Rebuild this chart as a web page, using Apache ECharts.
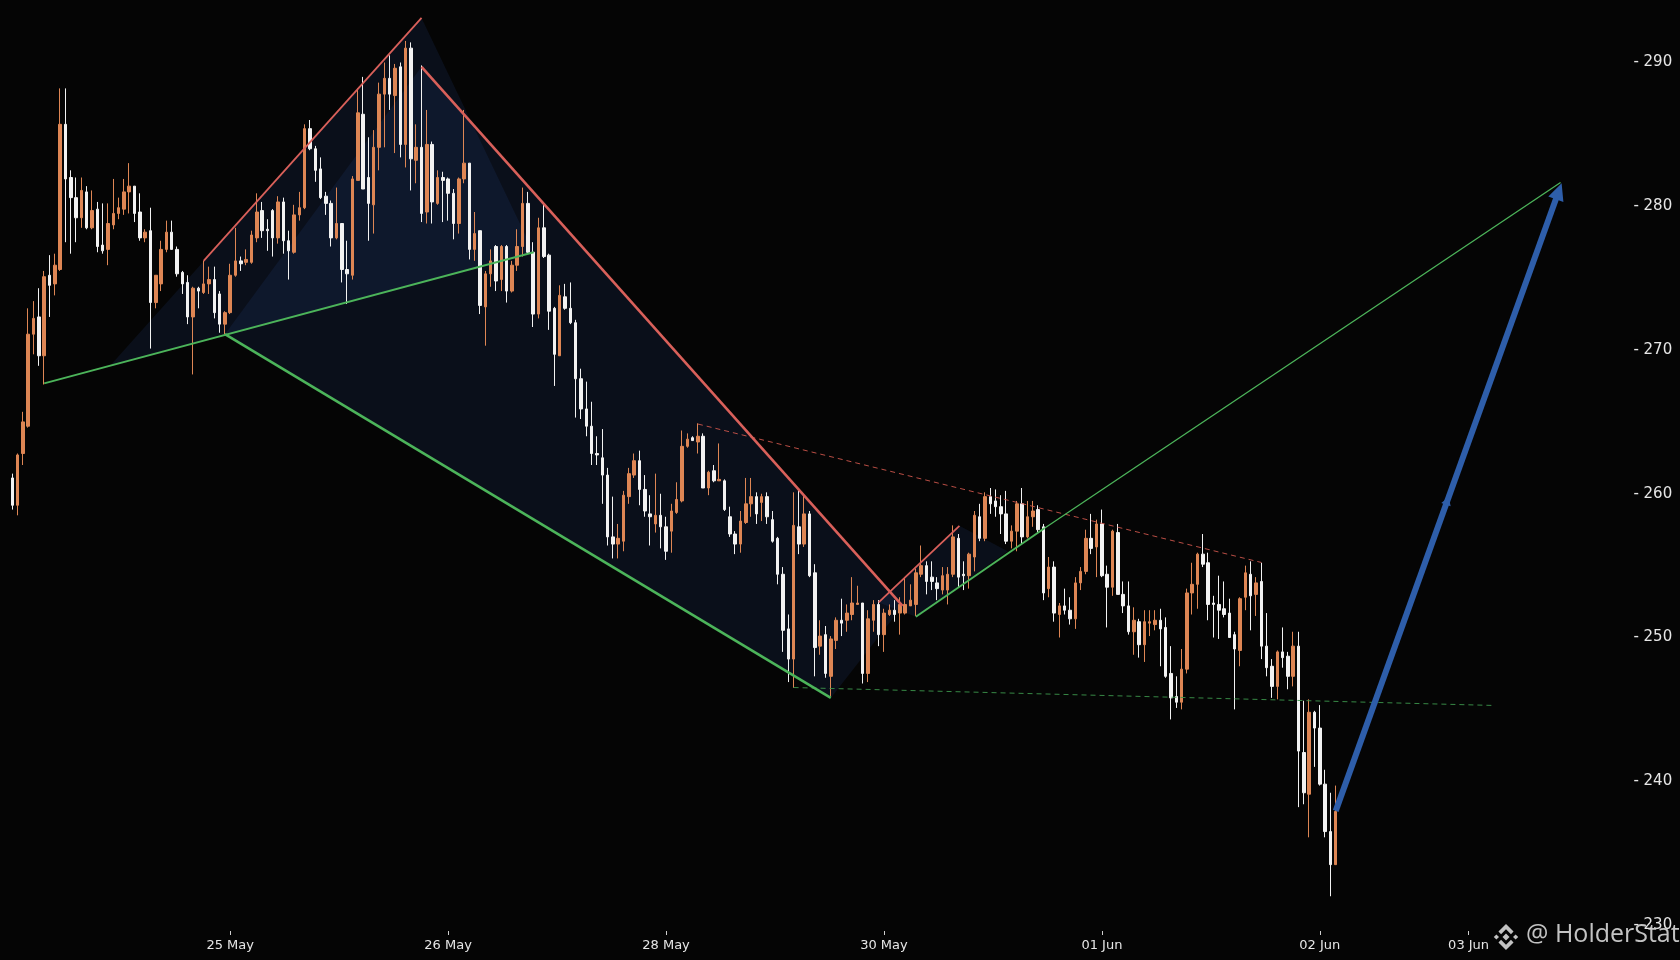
<!DOCTYPE html>
<html>
<head>
<meta charset="utf-8">
<script src="https://cdn.jsdelivr.net/npm/echarts@6/dist/echarts.min.js"></script>
<style>
html,body{margin:0;padding:0;background:#050505;}
#chart{width:1680px;height:960px;}
</style>
</head>
<body>
<div id="chart"></div>
<script>
// ---------- candle values (open, close, low, high) ----------
const opens = [
261.1,259.2,262.8,264.7,271.1,272.3,269.6,275.2,274.6,275.6,285.7,282.0,280.6,279.2,281.0,278.5,279.8,277.3,277.0,278.7,
279.5,279.8,281.0,281.4,279.6,277.8,278.3,273.3,274.6,277.0,278.2,277.0,275.4,274.7,272.3,274.3,274.0,274.6,274.9,273.9,
271.8,272.6,275.2,276.2,276.1,276.1,277.8,279.7,278.4,279.7,277.8,280.3,277.6,276.8,279.4,279.9,285.4,284.0,282.6,280.7,
280.2,277.8,278.8,275.6,275.2,281.8,286.4,282.0,280.1,284.1,287.8,288.9,287.7,289.7,284.3,291.0,283.2,284.1,279.6,284.3,
280.2,282.0,281.9,280.9,278.8,281.9,283.0,277.0,278.3,273.0,275.3,277.2,274.9,277.2,274.1,275.9,277.2,280.2,276.8,272.5,
278.5,276.6,272.9,269.6,273.7,272.9,271.9,268.0,265.9,264.7,262.8,262.5,261.3,257.0,256.5,256.7,259.8,261.3,262.3,260.3,
258.6,257.9,258.5,257.7,257.4,258.7,259.5,263.3,263.9,263.6,264.0,260.4,261.6,260.9,260.9,258.4,257.2,256.5,258.0,259.3,
259.8,259.4,259.8,258.2,256.9,254.4,250.6,248.5,257.7,256.5,258.6,254.5,249.4,250.2,247.3,249.8,251.2,251.2,251.6,252.3,
252.4,247.5,251.2,252.3,250.2,251.6,251.9,251.7,251.7,252.2,252.3,254.4,255.0,254.2,253.8,253.3,253.3,254.4,256.9,254.4,
254.3,255.6,258.4,256.9,259.8,259.5,259.1,258.6,256.7,257.4,259.3,257.0,258.4,258.9,257.7,253.4,254.9,251.6,252.2,251.9,
251.3,253.8,254.6,256.9,256.3,257.9,254.4,253.5,257.3,253.0,252.2,250.4,251.1,249.5,251.0,250.9,251.2,250.7,247.5,245.9,
245.5,247.8,253.1,253.7,255.8,255.2,252.4,252.3,252.0,251.7,250.2,249.1,252.8,254.4,253.0,253.9,249.4,248.0,246.6,249.0,
248.7,247.3,249.4,242.0,239.1,244.8,243.7,239.8,236.5,234.2
];
const closes = [
259.2,262.7,265.0,271.1,272.2,269.6,275.1,274.5,275.9,285.7,281.9,280.6,279.2,281.1,278.5,279.7,277.2,276.9,278.8,279.5,
279.9,281.0,281.4,279.5,277.8,278.2,273.3,275.2,277.0,278.2,277.0,275.3,274.6,272.3,274.3,274.1,274.6,274.9,272.6,271.8,
272.6,275.2,276.2,276.0,276.3,278.0,279.6,278.3,278.3,277.8,280.3,277.6,276.9,279.4,279.9,285.4,284.0,282.5,280.6,280.2,
277.8,278.8,275.6,275.3,281.9,286.5,281.2,280.2,284.1,287.8,288.9,287.8,289.6,284.3,291.0,283.3,284.1,279.5,284.3,280.3,
282.0,281.8,280.9,278.8,281.9,283.0,277.0,278.1,273.1,275.3,276.2,274.8,277.2,274.1,275.9,277.2,280.2,276.8,272.5,278.5,
276.5,272.7,269.7,273.8,272.9,271.9,268.0,265.9,264.7,262.8,262.7,261.3,257.0,256.5,256.9,259.9,261.4,262.3,260.3,258.8,
258.4,258.5,257.7,256.0,258.8,259.6,263.3,263.8,263.7,264.0,260.4,261.5,260.9,261.0,258.9,257.2,256.5,258.1,259.3,259.8,
258.6,259.8,258.4,256.7,254.4,250.5,248.5,257.8,256.5,258.6,254.3,249.3,250.1,247.5,249.9,251.2,251.0,251.7,252.4,252.4,
247.5,251.3,252.3,250.2,251.7,251.9,251.6,252.3,252.3,252.6,254.5,255.0,253.9,253.9,253.4,254.3,254.4,257.0,254.2,254.3,
255.8,258.5,256.9,259.8,259.3,259.1,258.6,256.7,257.4,259.3,257.0,258.4,258.8,257.5,253.1,254.9,251.7,252.2,251.9,251.3,
253.8,254.6,256.9,256.2,257.9,254.3,253.5,257.4,253.0,252.2,250.4,251.2,249.5,251.1,251.1,251.2,250.6,247.3,245.8,245.5,
247.8,253.1,253.7,255.8,255.1,252.3,252.3,251.9,251.6,250.0,249.2,252.7,254.5,252.9,253.8,249.4,247.9,246.6,249.0,248.6,
247.3,249.4,242.1,239.2,244.8,243.7,239.8,236.5,234.2,237.9
];
const lows = [
258.9,258.5,262.0,264.6,269.7,268.9,267.6,272.3,273.8,275.5,277.5,276.7,277.5,278.5,278.4,278.4,276.8,276.7,275.9,278.4,
279.1,279.4,279.5,278.9,277.6,277.5,270.1,272.9,274.1,276.8,277.0,275.1,273.9,271.8,268.3,272.9,273.9,273.9,272.2,271.2,
271.1,272.5,275.1,275.5,275.9,276.0,277.5,277.8,276.9,276.5,277.4,276.7,274.9,276.7,279.0,279.8,283.9,281.7,280.5,279.4,
277.2,277.7,274.7,273.2,274.9,281.8,281.2,277.6,278.1,282.5,284.1,286.7,283.7,283.4,282.7,281.1,281.6,278.9,278.8,278.8,
280.1,278.9,279.0,277.7,278.1,281.6,276.3,276.2,272.5,270.3,274.4,274.1,274.1,273.3,274.0,275.5,276.5,276.7,271.6,272.2,
276.4,271.4,267.5,269.6,272.8,271.8,265.3,265.2,264.0,262.0,262.0,259.3,256.4,255.5,255.5,256.0,259.3,261.1,259.2,258.4,
256.4,257.3,256.2,255.4,255.9,258.6,259.4,263.2,263.7,262.8,260.4,259.9,260.8,260.9,258.8,257.0,255.8,255.9,257.9,258.4,
257.9,258.1,257.9,256.6,253.7,249.0,246.9,246.5,255.8,256.3,254.2,247.3,248.8,247.2,245.9,249.2,250.1,250.4,251.2,252.3,
246.8,246.9,250.4,249.4,249.0,251.5,251.1,250.2,251.6,252.2,251.5,254.2,253.0,253.3,252.6,253.0,252.3,254.2,253.5,253.3,
253.4,254.6,256.7,256.7,258.6,258.4,257.2,256.5,256.2,256.0,256.5,256.9,257.7,257.3,252.6,252.8,251.1,250.0,251.6,250.9,
250.6,253.3,254.4,255.8,254.2,254.2,250.7,252.9,253.0,251.7,250.2,248.8,248.6,248.3,250.1,250.5,248.0,247.2,244.3,245.1,
245.0,247.5,251.6,252.0,254.9,251.2,250.0,249.9,251.4,250.0,245.0,248.0,251.9,250.5,251.5,248.5,247.3,245.8,245.7,247.9,
246.4,246.6,238.2,238.4,236.1,241.0,239.7,236.1,232.0,234.2
];
const highs = [
261.4,262.8,265.7,272.9,273.4,274.3,275.5,276.6,276.7,288.2,288.2,282.5,282.0,282.0,281.4,281.1,280.3,280.2,280.2,281.9,
280.6,281.9,283.0,281.4,280.9,278.4,279.9,275.2,277.6,279.0,279.0,277.2,275.5,275.2,274.4,274.4,276.2,275.8,275.8,274.1,
272.7,276.0,278.5,276.5,277.0,278.3,280.9,280.3,279.1,279.8,280.7,280.6,278.3,280.1,281.0,285.7,286.0,284.2,283.4,281.0,
280.4,281.3,278.8,277.6,282.1,288.2,289.0,284.8,285.3,288.6,290.0,290.5,289.9,290.0,291.5,291.4,285.7,289.8,286.7,284.5,
282.5,282.4,282.0,281.2,282.0,286.7,283.0,279.6,278.3,275.5,277.0,277.3,277.3,277.3,276.2,278.4,281.3,281.0,277.5,279.2,
280.1,276.7,273.0,274.5,274.6,274.7,272.1,268.7,267.8,266.4,264.0,264.5,261.8,259.8,257.9,260.2,261.8,262.8,263.0,261.3,
259.9,261.4,260.0,258.4,259.3,260.8,264.4,264.2,264.0,264.9,264.2,261.6,262.0,263.5,261.0,259.1,257.4,258.8,261.1,261.1,
260.1,260.0,260.1,258.8,257.0,254.9,251.6,260.1,260.4,259.9,258.8,255.1,251.2,250.8,250.1,251.4,252.7,252.3,254.2,253.6,
252.4,251.9,252.6,252.6,252.0,252.3,252.6,252.8,254.2,253.7,254.8,256.4,255.3,255.3,254.2,254.9,254.9,257.8,257.2,255.3,
255.9,258.8,259.3,260.1,260.4,260.3,259.9,260.2,257.8,259.5,260.4,259.5,259.5,259.2,257.9,255.6,255.3,252.4,253.4,252.8,
254.2,254.9,257.5,258.6,258.2,258.9,255.0,257.5,257.9,253.9,253.9,252.1,251.3,251.9,251.9,251.9,252.0,251.4,249.4,247.3,
249.2,253.4,255.2,255.9,257.2,255.9,252.9,254.3,253.9,252.7,250.4,252.8,255.0,255.3,254.2,255.2,251.7,248.5,249.1,250.7,
249.0,250.4,250.4,245.6,245.7,244.9,245.3,240.8,239.2,239.7
];

// ---------- axis ticks ----------
const slotCount = 304;               // candle slots incl. empty future slots
const xTickIndex = [41, 82, 123, 164, 205, 246, 274];
const xTickLabels = ['25 May', '26 May', '28 May', '30 May', '01 Jun', '02 Jun', '03 Jun'];
const yMin = 230, yMax = 294, yStep = 10;

// ---------- drawing overlays (slot index, price) ----------
const redMainSegs   = [[77, 289.7, 167.5, 252.2]];
const redThinSegs   = [[36, 276.2, 77, 293.1], [163, 252.44, 178.2, 257.77]];
const greenMainSegs = [[40, 271.1, 154, 245.8]];
const greenMidSegs  = [[6, 267.68, 98.1, 276.8], [170, 251.44, 194.2, 257.6]];
const greenThinSegs = [[194.2, 257.6, 291.3, 281.65]];
const redDashSegs   = [[129, 264.85, 235, 255.22]];
const greenDashSegs = [[147, 246.52, 279, 245.27]];
const arrowPath     = [[249, 237.94], [291.5, 281.6]];
const shadePolys = [
  [[18.4, 268.9], [77, 293.1], [98.1, 276.8]],
  [[40, 271.1], [77, 289.7], [167.5, 252.2], [154, 245.8]],
  [[163, 252.44], [178.2, 257.77], [187.3, 256.0], [170, 251.44]]
];

// ---------- build ----------
const categories = Array.from({length: slotCount}, (_, i) => String(i));
const candleData = opens.map((o, i) => [o, closes[i], lows[i], highs[i]]);

const ORANGE = '#de8654', WHITE = '#f2f2f2';
const RED = '#d9605a', GREEN = '#4cb45a', BLUE = '#2e5eaa';
const MARK = 'rgba(212,212,212,0.92)';

function segSeries(segs, color, width, dash, z) {
  return {
    type: 'custom', xAxisIndex: 1, yAxisIndex: 0, z: z, silent: true, clip: false,
    data: segs, encode: {x: [0, 2], y: [1, 3]},
    renderItem: function (params, api) {
      const a = api.coord([api.value(0), api.value(1)]);
      const b = api.coord([api.value(2), api.value(3)]);
      return {type: 'line', shape: {x1: a[0], y1: a[1], x2: b[0], y2: b[1]},
        style: {stroke: color, lineWidth: width, lineDash: dash || null, fill: null}};
    }
  };
}

const series = [
  {
    type: 'custom', xAxisIndex: 1, yAxisIndex: 0, z: 1, silent: true,
    data: shadePolys.map((p, k) => [p[0][0], p[0][1], k]),
    renderItem: function (params, api) {
      const pts = shadePolys[params.dataIndex].map(p => api.coord(p));
      return {type: 'polygon', shape: {points: pts}, style: {fill: 'rgba(45,85,170,0.13)'}};
    }
  },
  {
    type: 'candlestick', xAxisIndex: 0, yAxisIndex: 0, z: 3, silent: true,
    data: candleData, barWidth: 3,
    itemStyle: {color: ORANGE, color0: WHITE, borderColor: ORANGE, borderColor0: WHITE, borderWidth: 1}
  },
  segSeries(redDashSegs, 'rgba(205,85,75,0.9)', 1, [5, 4], 4),
  segSeries(greenDashSegs, 'rgba(60,150,75,0.9)', 1, [5, 4], 4),
  segSeries(greenThinSegs, GREEN, 1.3, null, 5),
  segSeries(greenMidSegs, GREEN, 2, null, 5),
  segSeries(greenMainSegs, GREEN, 2.6, null, 5),
  segSeries(redThinSegs, RED, 1.8, null, 5),
  segSeries(redMainSegs, RED, 2.6, null, 5),
  {
    type: 'custom', xAxisIndex: 1, yAxisIndex: 0, z: 6, silent: true, clip: false,
    data: [[arrowPath[0][0], arrowPath[0][1], arrowPath[1][0], arrowPath[1][1]]],
    renderItem: function (params, api) {
      const a = api.coord(arrowPath[0]), b = api.coord(arrowPath[1]);
      const ang = Math.atan2(b[1] - a[1], b[0] - a[0]);
      const c = Math.cos(ang), s = Math.sin(ang);
      function head(tip, len, half) {
        const bx = tip[0] - len * c, by = tip[1] - len * s;
        return [[tip[0], tip[1]], [bx + half * s, by - half * c], [bx - half * s, by + half * c]];
      }
      const mid = [(a[0] + b[0]) / 2, (a[1] + b[1]) / 2];
      return {type: 'group', children: [
        {type: 'line', shape: {x1: a[0], y1: a[1], x2: b[0] - 12 * c, y2: b[1] - 12 * s},
          style: {stroke: BLUE, lineWidth: 6, lineCap: 'butt'}},
        {type: 'polygon', shape: {points: head(b, 17, 8)}, style: {fill: BLUE}},
        {type: 'polygon', shape: {points: head(mid, 8, 5)}, style: {fill: BLUE}}
      ]};
    }
  }
];

// watermark logo (diamond mark) built from unit shapes
const u = 13;
function diamond(cx, cy, h) { return [[cx, cy - h], [cx + h, cy], [cx, cy + h], [cx - h, cy]]; }
function chevron(sign) {
  return [[-0.58 * u, sign * 0.42 * u], [0, sign * 1.0 * u], [0.58 * u, sign * 0.42 * u],
          [0.38 * u, sign * 0.22 * u], [0, sign * 0.6 * u], [-0.38 * u, sign * 0.22 * u]];
}
const logoParts = [diamond(0, 0, 0.27 * u), diamond(-0.74 * u, 0, 0.2 * u), diamond(0.74 * u, 0, 0.2 * u), chevron(-1), chevron(1)];

const chart = echarts.init(document.getElementById('chart'), null, {renderer: 'canvas'});
chart.setOption({
  backgroundColor: '#050505',
  animation: false,
  textStyle: {fontFamily: 'DejaVu Sans'},
  grid: {left: 9.64, right: 54.6, top: 5, bottom: 35, containLabel: false},
  xAxis: [
    {
      type: 'category', data: categories, boundaryGap: true, offset: 6,
      axisLine: {show: false},
      axisTick: {show: true, alignWithLabel: true, length: 4,
        interval: (i) => xTickIndex.includes(i), lineStyle: {color: '#cfcfcf', width: 1}},
      axisLabel: {interval: (i) => xTickIndex.includes(i), color: '#e6e6e6', fontSize: 13, margin: 8,
        fontFamily: 'DejaVu Sans',
        formatter: (v, i) => { const k = xTickIndex.indexOf(Number(v)); return k >= 0 ? xTickLabels[k] : ''; }},
      splitLine: {show: false}
    },
    {type: 'value', min: -0.5, max: slotCount - 0.5, show: false}
  ],
  yAxis: {
    type: 'value', position: 'right', min: yMin, max: yMax, interval: yStep, scale: true,
    axisLine: {show: false}, axisTick: {show: false}, splitLine: {show: false},
    axisLabel: {color: '#e6e6e6', fontSize: 15, margin: 8, fontFamily: 'DejaVu Sans',
      formatter: (v) => (v % yStep === 0 ? '- ' + v : '')}
  },
  graphic: [
    {type: 'group', x: 1506, y: 937, z: 100, silent: true,
      children: logoParts.map(pts => ({type: 'polygon', shape: {points: pts}, style: {fill: MARK}}))},
    {type: 'text', left: 1526, top: 922, z: 100, silent: true,
      style: {text: '@ HolderStat', fill: MARK, font: '25px "Open Sans"'}}
  ],
  series: series
});
</script>
</body>
</html>
